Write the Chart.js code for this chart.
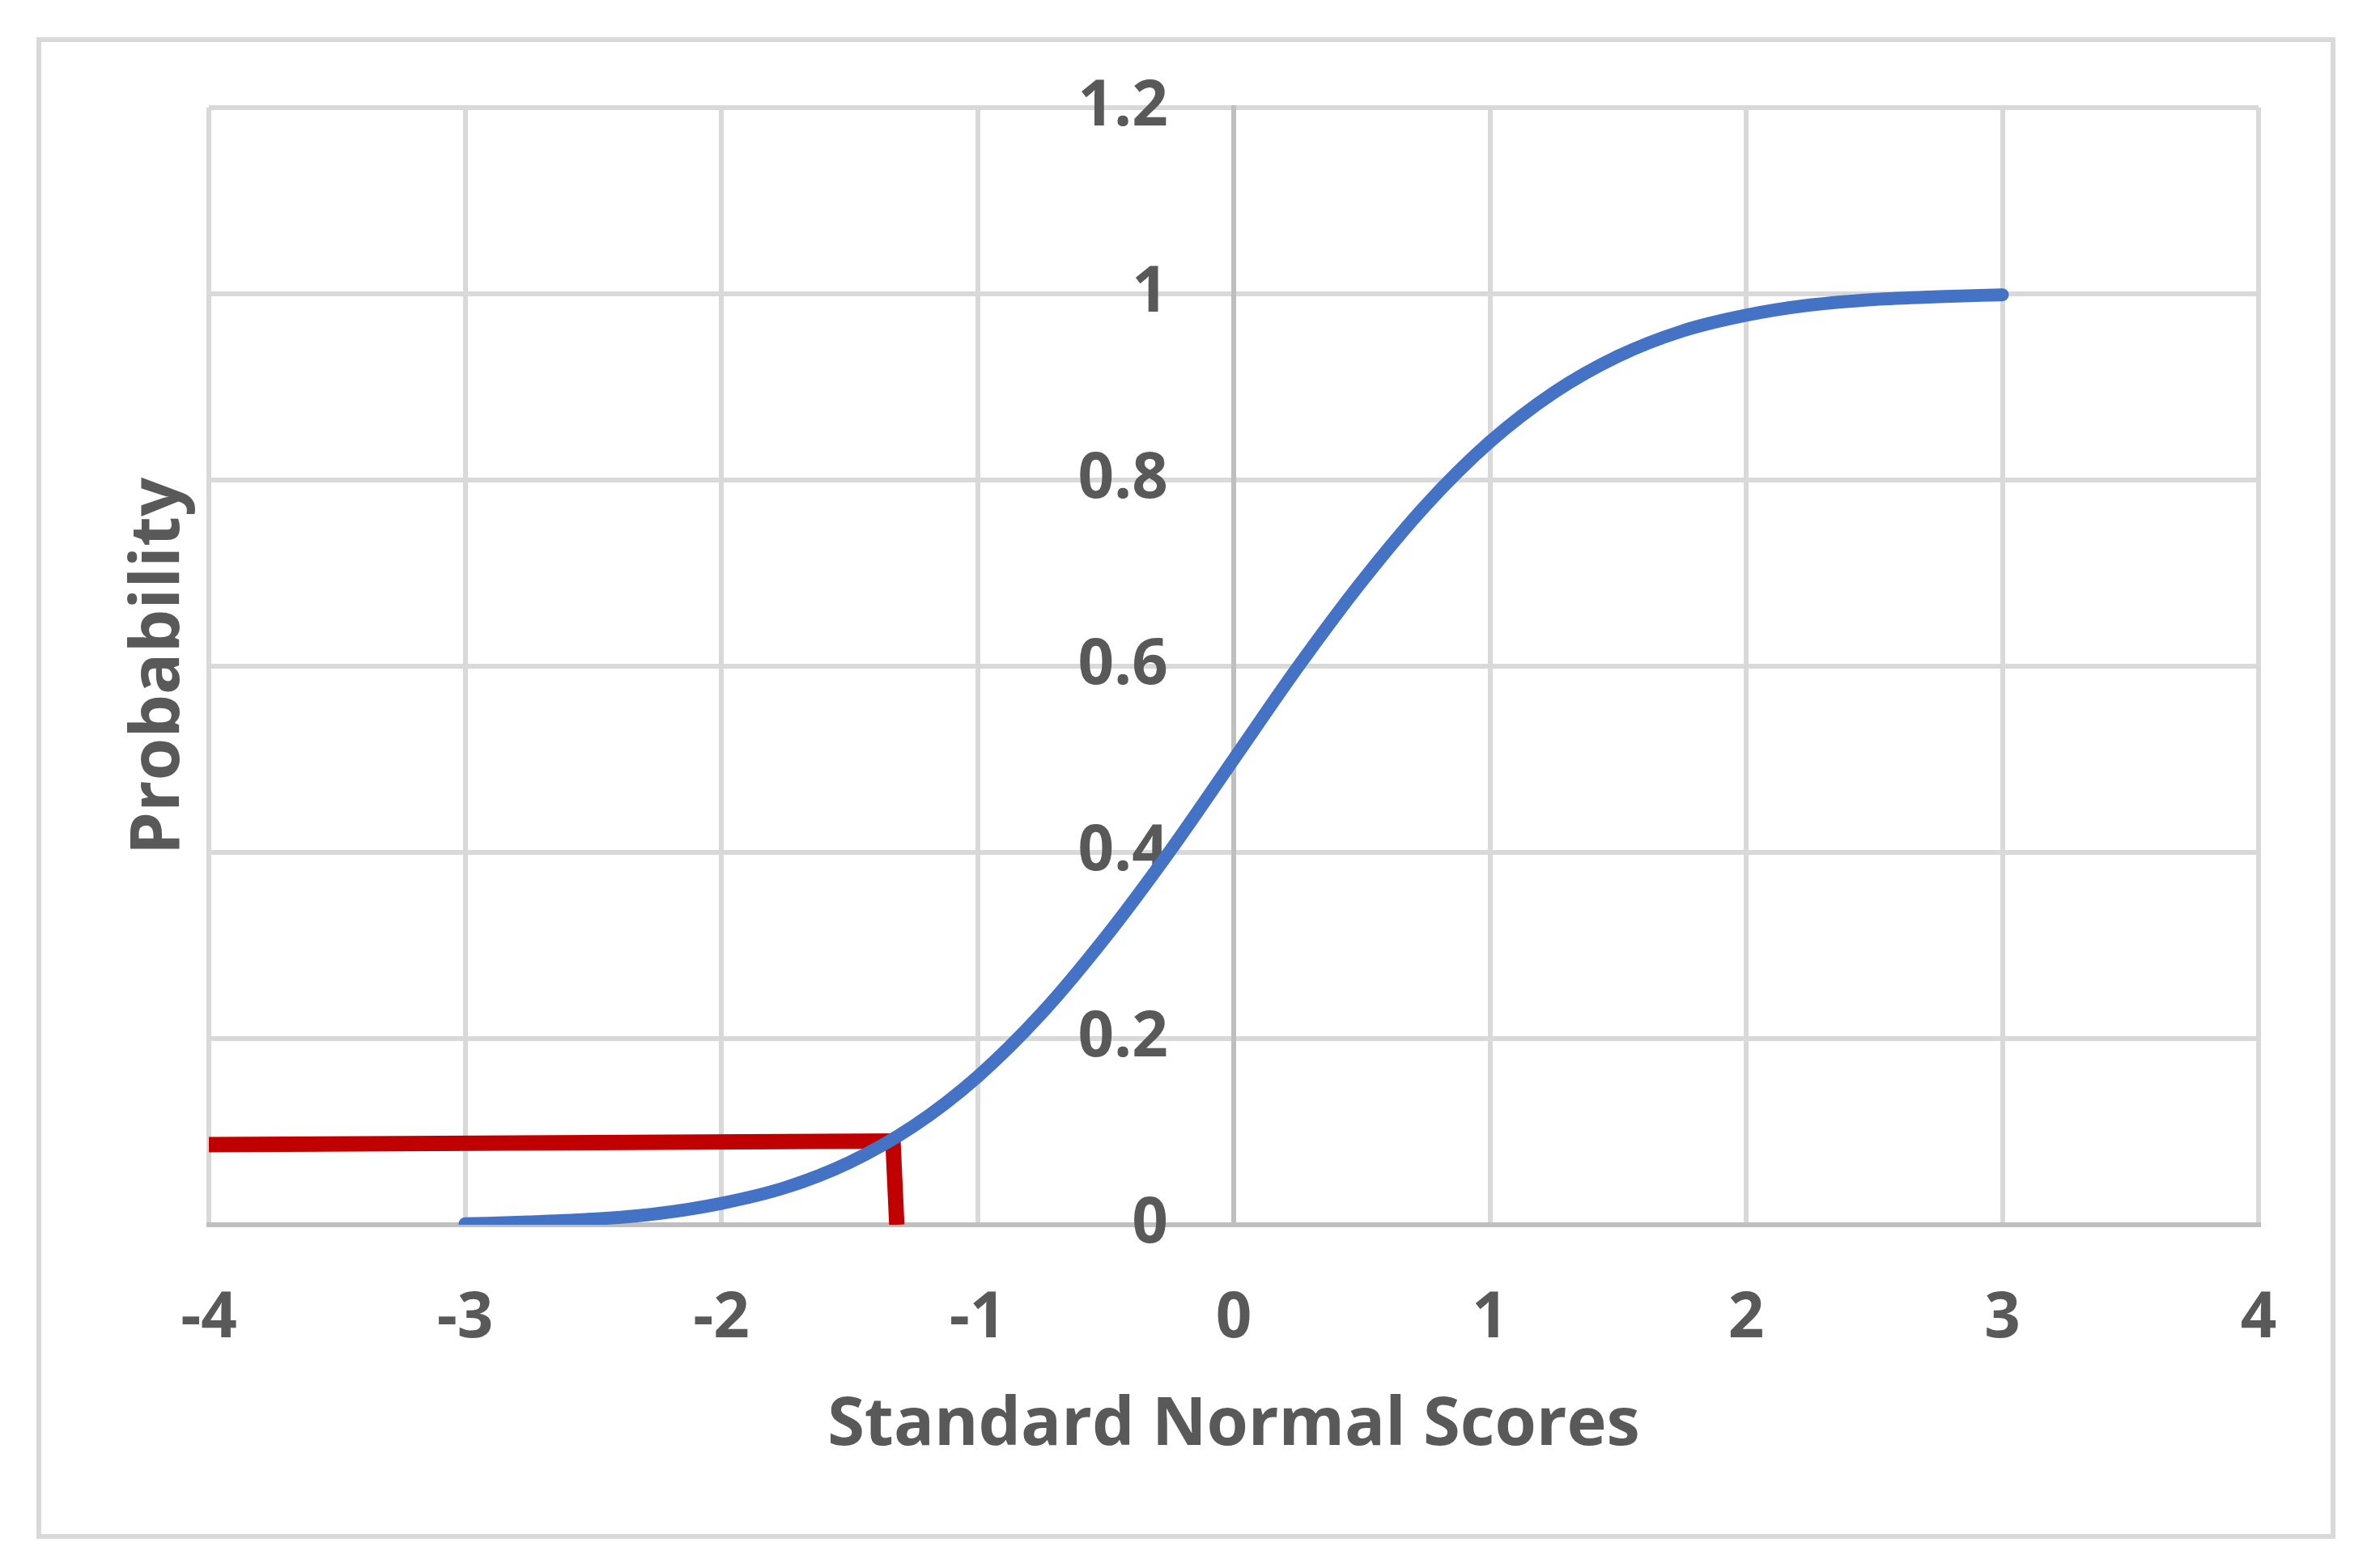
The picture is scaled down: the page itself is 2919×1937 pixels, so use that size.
<!DOCTYPE html>
<html>
<head>
<meta charset="utf-8">
<script src="https://cdn.jsdelivr.net/npm/chart.js@4"></script>
<style>
  html, body { margin: 0; padding: 0; background: #fff; overflow: hidden; }
  canvas { display: block; }
</style>
</head>
<body>
<canvas id="cdf" width="2919" height="1937" style="width:2919px;height:1937px"></canvas>
<script>
// blue curve: cumulative probability
const zScores = [-3, -2.75, -2.5, -2.25, -2, -1.75, -1.5, -1.25, -1, -0.75, -0.5, -0.25,
                 0, 0.25, 0.5, 0.75, 1, 1.25, 1.5, 1.75, 2, 2.25, 2.5, 2.75, 3];
const probs = [0.001, 0.003, 0.006, 0.012, 0.023, 0.040, 0.067, 0.106, 0.159, 0.227, 0.309, 0.401,
               0.5, 0.599, 0.691, 0.773, 0.841, 0.894, 0.933, 0.960, 0.977, 0.988, 0.994, 0.997, 0.999];

// red guide line
const guideX = [-4, -1.33, -1.315];
const guideY = [0.086, 0.090, 0];

const xTicks = [-4, -3, -2, -1, 0, 1, 2, 3, 4];
const yTicks = [0, 0.2, 0.4, 0.6, 0.8, 1, 1.2];
const yTickLabels = ['0', '0.2', '0.4', '0.6', '0.8', '1', '1.2'];

const textColor = '#595959';
const gridColor = '#d9d9d9';
const axisColor = '#bfbfbf';

const frame = {
    id: 'frame',
    beforeDraw(chart) {
        const c = chart.ctx;
        c.save();
        c.fillStyle = '#fff';
        c.fillRect(0, 0, chart.width, chart.height);
        c.strokeStyle = gridColor;
        c.lineWidth = 6;
        c.strokeRect(48, 49, 2834, 1849);
        c.restore();
    }
};

const ctx = document.getElementById('cdf').getContext('2d');

new Chart(ctx, {
    type: 'scatter',
    data: {
        datasets: [
            {
                label: 'guide',
                data: guideX.map((x, i) => ({x: x, y: guideY[i]})),
                showLine: true,
                borderColor: '#c00000',
                borderWidth: 19,
                borderCapStyle: 'butt',
                pointRadius: 0,
                yAxisID: 'y',
                order: 1,
            },
            {
                label: 'CDF',
                data: zScores.map((x, i) => ({x: x, y: probs[i]})),
                showLine: true,
                borderColor: '#4472c4',
                borderWidth: 16,
                borderCapStyle: 'round',
                borderJoinStyle: 'round',
                cubicInterpolationMode: 'monotone',
                pointRadius: 0,
                yAxisID: 'y',
                order: 0,
            },
        ],
    },
    options: {
        responsive: false,
        animation: false,
        devicePixelRatio: 1,
        layout: { padding: { top: 133, right: 129, left: 0, bottom: 0 } },
        plugins: { legend: { display: false }, tooltip: { enabled: false } },
        scales: {
            x: {
                type: 'linear',
                min: -4, max: 4,
                afterBuildTicks: s => { s.ticks = xTicks.map(v => ({value: v})); },
                afterFit: s => { s.height = 424; },
                grid: { color: gridColor, lineWidth: 6, drawTicks: false },
                border: { color: axisColor, width: 6 },
                ticks: {
                    color: textColor,
                    padding: 70,
                    font: { family: 'Open Sans', weight: 'bold', size: 78 },
                },
                title: {
                    display: true,
                    text: 'Standard Normal Scores',
                    color: textColor,
                    font: { family: 'Open Sans', weight: 'bold', size: 83 },
                    padding: { top: 0, bottom: 126 },
                },
            },
            y: {
                type: 'linear',
                position: { x: 0 },
                min: 0, max: 1.2,
                afterBuildTicks: s => { s.ticks = yTicks.map(v => ({value: v})); },
                grid: { color: gridColor, lineWidth: 6, drawTicks: false },
                border: { color: axisColor, width: 6 },
                ticks: {
                    color: textColor,
                    // labels sit left of the x = 0 axis line; trailing spaces keep the gap
                    callback: (v, i) => yTickLabels[i] + '    ',
                    font: { family: 'Open Sans', weight: 'bold', size: 78 },
                },
            },
            yt: {
                type: 'linear',
                position: 'left',
                afterFit: s => { s.width = 258; },
                grid: { display: false },
                border: { display: false },
                ticks: { display: false },
                title: {
                    display: true,
                    text: 'Probability',
                    color: textColor,
                    font: { family: 'Open Sans', weight: 'bold', size: 85 },
                    padding: { top: 146, bottom: 0 },
                },
            },
        },
    },
    plugins: [frame],
});
</script>
</body>
</html>
